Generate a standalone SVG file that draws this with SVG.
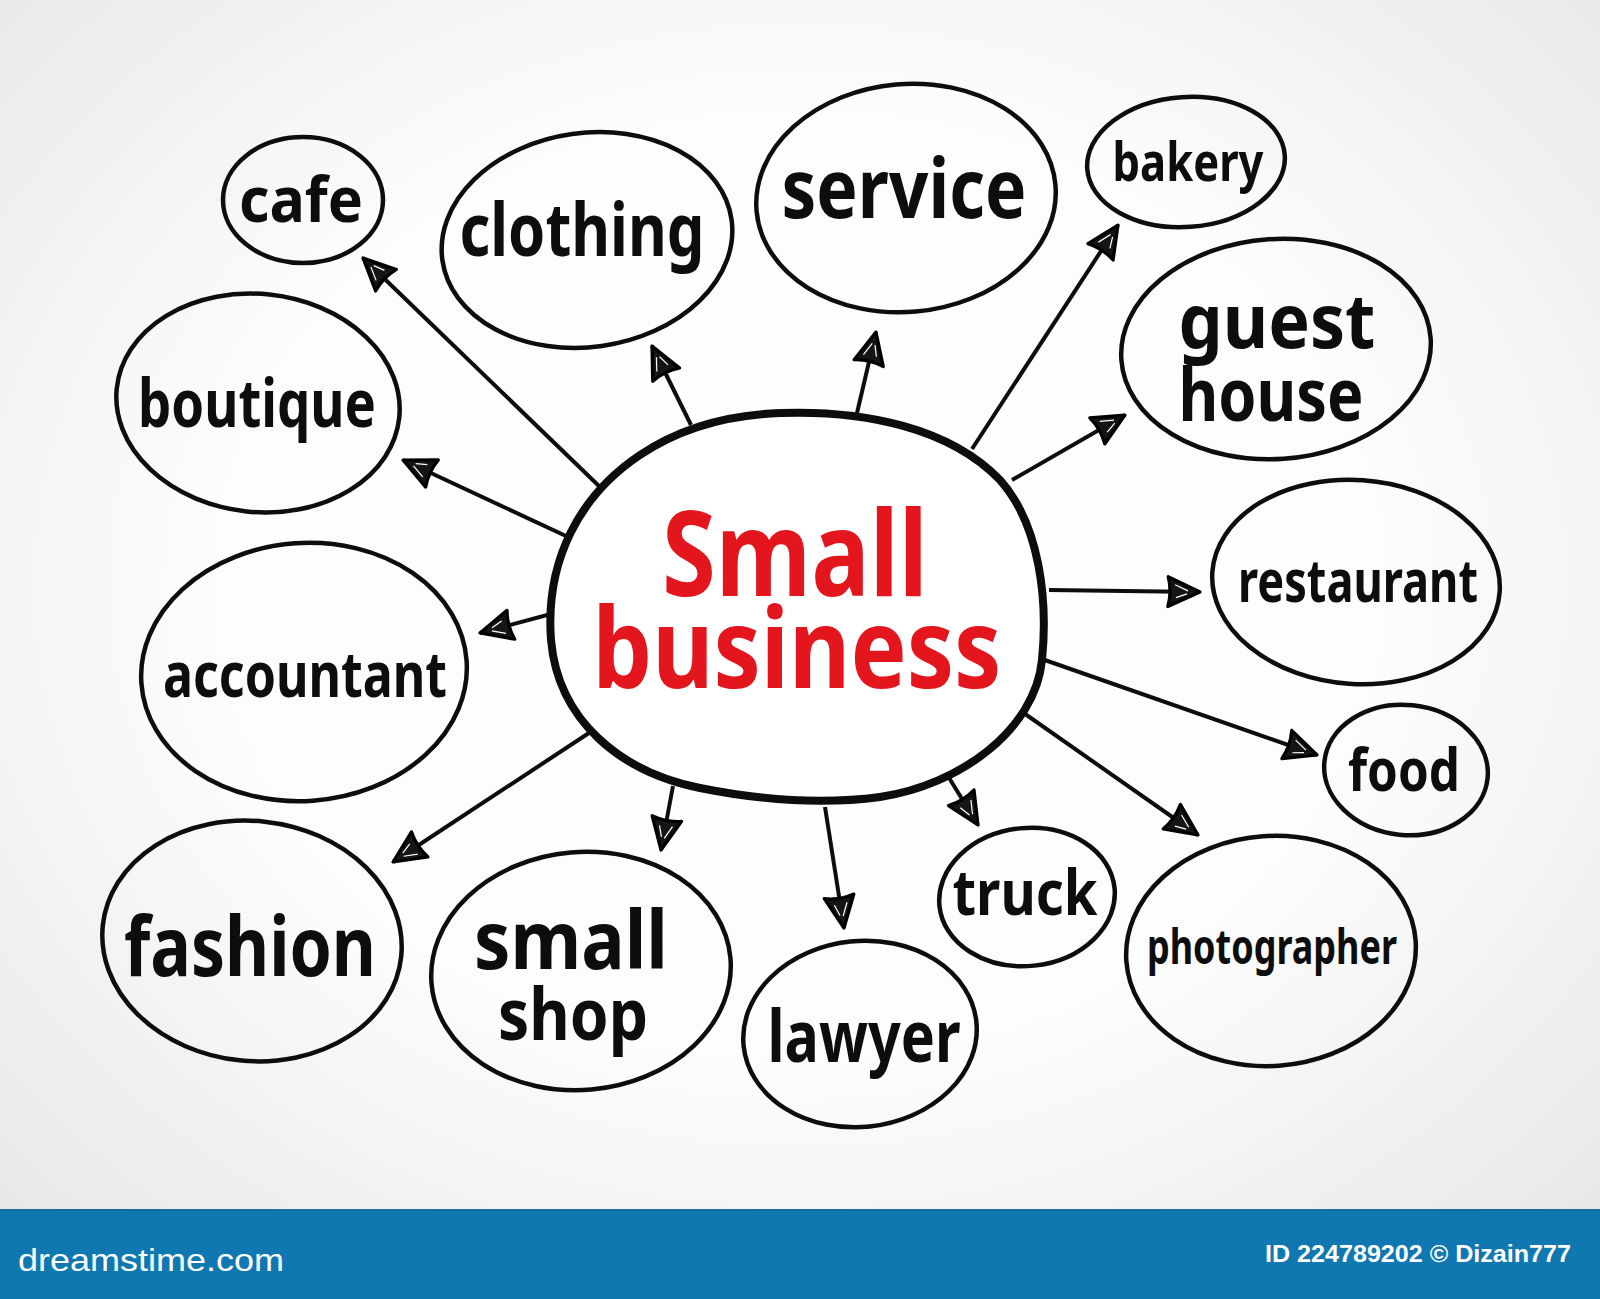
<svg xmlns="http://www.w3.org/2000/svg" width="1600" height="1299" viewBox="0 0 1600 1299">
<defs>
<radialGradient id="bg" cx="50%" cy="45%" r="75%">
<stop offset="0" stop-color="#ffffff"/>
<stop offset="0.5" stop-color="#fcfcfc"/>
<stop offset="1" stop-color="#e4e4e7"/>
</radialGradient>
<marker id="ah" viewBox="-36 -19 40 38" markerWidth="40" markerHeight="38" refX="0" refY="0" orient="auto" markerUnits="userSpaceOnUse">
<path d="M0,0 L-32,-15 Q-28,0 -32,15 Z" fill="#151515" stroke="#000" stroke-width="3.2" stroke-linejoin="round"/>
<path d="M-25,-7 L-12,-1 M-24,6 L-13,2" stroke="#fff" stroke-width="1.2" fill="none"/>
</marker>
<style>
.node{fill:none;stroke:#0d0d0d;stroke-width:4.5}
.lbl{font-family:"Noto Sans","DejaVu Sans",sans-serif;font-weight:700;fill:#0d0d0d;text-anchor:middle}
.link{stroke:#0d0d0d;stroke-width:4;fill:none;marker-end:url(#ah)}
</style>
</defs>
<rect x="0" y="0" width="1600" height="1299" fill="url(#bg)"/>

<g id="connectors">
<line class="link" x1="600" y1="487" x2="363" y2="258"/>
<line class="link" x1="691" y1="425" x2="652" y2="346"/>
<line class="link" x1="857" y1="413" x2="876" y2="332"/>
<line class="link" x1="972" y1="449" x2="1118" y2="225"/>
<line class="link" x1="1012" y1="480" x2="1125" y2="415"/>
<line class="link" x1="1049" y1="590" x2="1200" y2="592"/>
<line class="link" x1="1039" y1="658" x2="1317" y2="755"/>
<line class="link" x1="1018" y1="709" x2="1198" y2="835"/>
<line class="link" x1="943" y1="768" x2="978" y2="825"/>
<line class="link" x1="825" y1="807" x2="844" y2="928"/>
<line class="link" x1="673" y1="786" x2="661" y2="850"/>
<line class="link" x1="592" y1="731" x2="393" y2="862"/>
<line class="link" x1="551" y1="614" x2="480" y2="633"/>
<line class="link" x1="566" y1="536" x2="403" y2="460"/>
</g>

<g id="center">
<path d="M780,413 C865,410 950,428 1000,480 C1040,525 1048,600 1042,660 C1035,730 960,785 880,797 C820,805 760,800 700,788 C620,772 558,720 551,640 C545,560 580,495 640,455 C680,428 725,415 780,413 Z" fill="#fff" stroke="#0d0d0d" stroke-width="8"/>
<text font-family="'Noto Sans','DejaVu Sans',sans-serif" font-weight="700" fill="#e3161e" text-anchor="middle"><tspan x="795" y="596" font-size="118" textLength="266" lengthAdjust="spacingAndGlyphs">Small</tspan><tspan x="797" y="688" font-size="112" textLength="409" lengthAdjust="spacingAndGlyphs">business</tspan></text>
</g>

<g id="cafe"><ellipse class="node" cx="303" cy="200" rx="80" ry="63"/><text class="lbl" x="301" y="222" font-size="62" textLength="124" lengthAdjust="spacingAndGlyphs">cafe</text></g>
<g id="clothing"><ellipse class="node" cx="587" cy="240" rx="146" ry="107" transform="rotate(-8 587 240)"/><text class="lbl" x="582" y="256" font-size="74" textLength="245" lengthAdjust="spacingAndGlyphs">clothing</text></g>
<g id="service"><ellipse class="node" cx="906" cy="198" rx="150" ry="114" transform="rotate(-5 906 198)"/><text class="lbl" x="904" y="218" font-size="82" textLength="245" lengthAdjust="spacingAndGlyphs">service</text></g>
<g id="bakery"><ellipse class="node" cx="1186" cy="162" rx="99" ry="65" transform="rotate(-4 1186 162)"/><text class="lbl" x="1188" y="181" font-size="54" textLength="151" lengthAdjust="spacingAndGlyphs">bakery</text></g>
<g id="guest-house"><ellipse class="node" cx="1276" cy="349" rx="155" ry="110" transform="rotate(-4 1276 349)"/><text class="lbl"><tspan x="1277" y="348" font-size="76" textLength="197" lengthAdjust="spacingAndGlyphs">guest</tspan><tspan x="1271" y="421" font-size="74" textLength="185" lengthAdjust="spacingAndGlyphs">house</tspan></text></g>
<g id="restaurant"><ellipse class="node" cx="1356" cy="582" rx="144" ry="102" transform="rotate(4 1356 582)"/><text class="lbl" x="1358" y="602" font-size="60" textLength="240" lengthAdjust="spacingAndGlyphs">restaurant</text></g>
<g id="food"><ellipse class="node" cx="1406" cy="770" rx="82" ry="65" transform="rotate(6 1406 770)"/><text class="lbl" x="1404" y="791" font-size="60" textLength="112" lengthAdjust="spacingAndGlyphs">food</text></g>
<g id="photographer"><ellipse class="node" cx="1271" cy="951" rx="145" ry="115" transform="rotate(-4 1271 951)"/><text class="lbl" x="1272" y="964" font-size="48" textLength="250" lengthAdjust="spacingAndGlyphs">photographer</text></g>
<g id="truck"><ellipse class="node" cx="1027" cy="897" rx="88" ry="69" transform="rotate(-6 1027 897)"/><text class="lbl" x="1025" y="915" font-size="62" textLength="145" lengthAdjust="spacingAndGlyphs">truck</text></g>
<g id="lawyer"><ellipse class="node" cx="860" cy="1034" rx="117" ry="93" transform="rotate(-6 860 1034)"/><text class="lbl" x="864" y="1062" font-size="72" textLength="193" lengthAdjust="spacingAndGlyphs">lawyer</text></g>
<g id="small-shop"><ellipse class="node" cx="581" cy="971" rx="150" ry="119" transform="rotate(-5 581 971)"/><text class="lbl"><tspan x="571" y="969" font-size="80" textLength="194" lengthAdjust="spacingAndGlyphs">small</tspan><tspan x="573" y="1040" font-size="72" textLength="150" lengthAdjust="spacingAndGlyphs">shop</tspan></text></g>
<g id="fashion"><ellipse class="node" cx="252" cy="941" rx="150" ry="120" transform="rotate(6 252 941)"/><text class="lbl" x="250" y="976" font-size="82" textLength="252" lengthAdjust="spacingAndGlyphs">fashion</text></g>
<g id="accountant"><ellipse class="node" cx="304" cy="672" rx="163" ry="129" transform="rotate(-4 304 672)"/><text class="lbl" x="305" y="697" font-size="62" textLength="284" lengthAdjust="spacingAndGlyphs">accountant</text></g>
<g id="boutique"><ellipse class="node" cx="258" cy="403" rx="142" ry="109" transform="rotate(6 258 403)"/><text class="lbl" x="257" y="427" font-size="66" textLength="238" lengthAdjust="spacingAndGlyphs">boutique</text></g>

<g id="banner">
<rect x="0" y="1209" width="1600" height="90" fill="#0f78b0"/>
<rect x="0" y="1209" width="1600" height="2" fill="#1b6c9c"/>
<text x="18" y="1271" font-family="'Liberation Sans','DejaVu Sans',sans-serif" font-size="32" fill="#fff" textLength="266" lengthAdjust="spacingAndGlyphs">dreamstime.com</text>
<text x="1571" y="1262" font-family="'Liberation Sans','DejaVu Sans',sans-serif" font-weight="700" font-size="24" fill="#fff" text-anchor="end" textLength="306" lengthAdjust="spacingAndGlyphs">ID 224789202 © Dizain777</text>
</g>
</svg>
